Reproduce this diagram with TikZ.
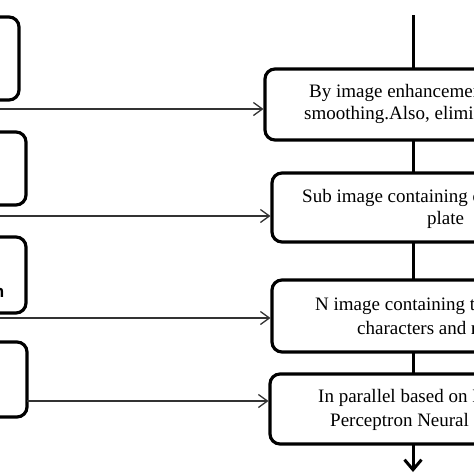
\documentclass[tikz,border=0pt]{standalone}
\usepackage{fontspec}
\setmainfont{Liberation Serif}
\setsansfont{Liberation Sans}
\usetikzlibrary{arrows.meta}
\tikzset{
  box/.style={draw=black, line width=3.2pt, rounded corners=10pt, inner sep=0pt, outer sep=0pt},
  txt/.style={anchor=base west, inner sep=0pt, font=\fontsize{19}{23}\selectfont},
  feed/.style={draw=black!80, line width=1.3pt, -{Straight Barb[length=9pt,width=13pt,line width=1.3pt]}, shorten >=1.5pt},
  flow/.style={draw=black, line width=3pt},
  flowend/.style={flow, -{Straight Barb[length=10pt,width=17pt,line width=3pt]}}
}
\begin{document}
\begin{tikzpicture}[x=1pt,y=-1pt]
\useasboundingbox (0,0) rectangle (474,474);
\clip (0,0) rectangle (474,474);
\fill[white] (0,0) rectangle (474,474);
% left boxes (cut off)
\node[box, minimum width=99pt, minimum height=83pt] (L1) at (-30.5,58.5) {};
\node[box, minimum width=106pt, minimum height=73pt] (L2) at (-27,168.5) {};
\node[box, minimum width=106pt, minimum height=76pt] (L3) at (-27,275) {};
\node[box, minimum width=107pt, minimum height=75pt] (L4) at (-26.5,379.5) {};
\node[anchor=base east, inner sep=0pt, font=\sffamily\bfseries\fontsize{17}{20}\selectfont] (L3t) at (4.5,297) {n};
% right boxes (cut off)
\node[box, minimum width=335pt, minimum height=71pt] (A) at (432.5,104.5) {};
\node[box, minimum width=328pt, minimum height=69pt] (B) at (436,207.5) {};
\node[box, minimum width=328pt, minimum height=72pt] (C) at (436,316) {};
\node[box, minimum width=330pt, minimum height=70pt] (D) at (435,409) {};
% texts
\node[txt] (A1) at (309,97) {By image enhancement};
\node[txt] (A2) at (304,119) {smoothing.Also, elimin};
\node[txt] (B1) at (302,202) {Sub image containing \textbf{c}};
\node[txt] (B2) at (427,224) {plate};
\node[txt] (C1) at (315,310) {N image containing th};
\node[txt] (C2) at (357,334) {characters and \textbf{n}};
\node[txt] (D1) at (318,402) {In parallel based on M};
\node[txt] (D2) at (330,426) {Perceptron Neural N};
% vertical flow
\coordinate (top) at (413,15);
\coordinate (bot) at (413,472);
\draw[flow] (top) -- (top |- A.north);
\draw[flow] (top |- A.south) -- (top |- B.north);
\draw[flow] (top |- B.south) -- (top |- C.north);
\draw[flow] (top |- C.south) -- (top |- D.north);
\draw[flowend] (top |- D.south) -- (bot);
% feeds from left
\coordinate (s1) at (0,109);
\coordinate (s2) at (0,216);
\coordinate (s3) at (0,318);
\coordinate (s4) at (27,401);
\draw[feed] (s1) -- (s1 -| A.west);
\draw[feed] (s2) -- (s2 -| B.west);
\draw[feed] (s3) -- (s3 -| C.west);
\draw[feed] (s4) -- (s4 -| D.west);
\end{tikzpicture}
\end{document}
